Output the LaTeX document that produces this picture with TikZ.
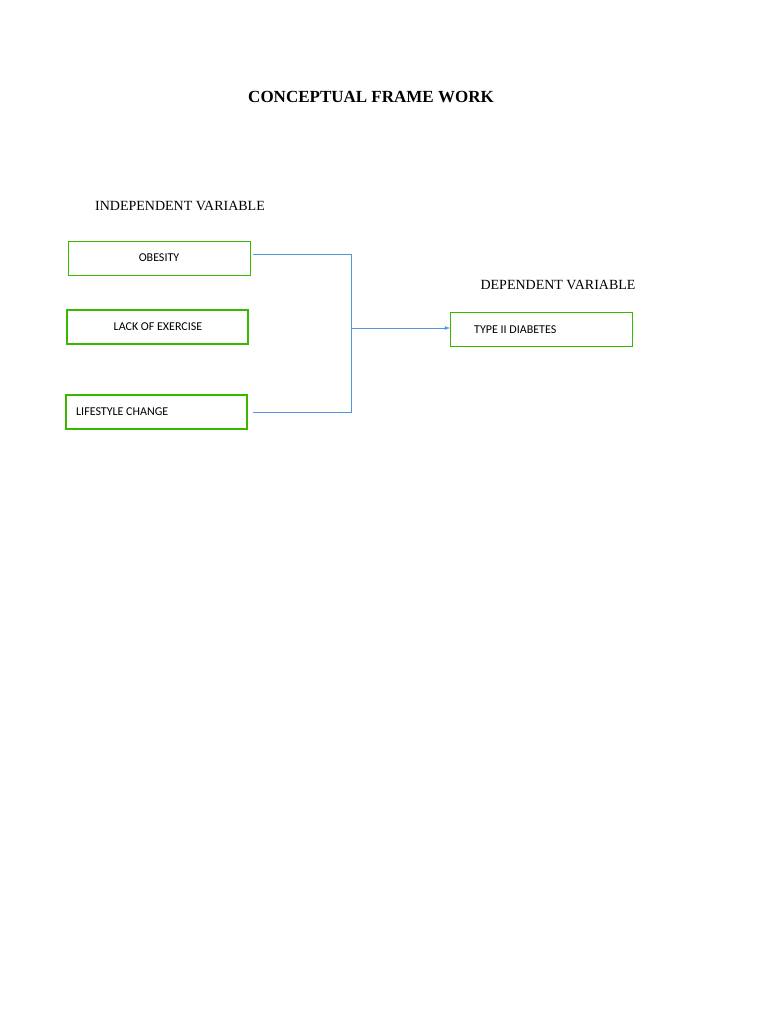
\documentclass[tikz,border=0pt]{standalone}
\usepackage{fontspec}
\setmainfont{Liberation Serif}
\newfontfamily\boxfont{Carlito}
\begin{document}
\begin{tikzpicture}[x=1pt,y=-1pt,
  vbox/.style={draw=green!60!black!70!lime, line width=1.2pt},
  btext/.style={font=\boxfont\fontsize{12}{14}\selectfont, inner sep=0pt},
  lbl/.style={font=\fontsize{14}{16}\selectfont, inner sep=0pt},
  conn/.style={draw={rgb,255:red,80;green,150;blue,220}, line width=0.8pt}]
\useasboundingbox (0,0) rectangle (768,1024);
\node[font=\bfseries\fontsize{17}{20}\selectfont] (title) at (371,97) {CONCEPTUAL FRAME WORK};
\node[lbl] (iv) at (180,206) {INDEPENDENT VARIABLE};
\node[lbl] (dv) at (558,285) {DEPENDENT VARIABLE};
\draw[vbox, line width=0.8pt] (68,241) rectangle (250,275);
\node[btext] (ob) at (159,258) {OBESITY};
\draw[vbox] (67,310) rectangle (248,344);
\node[btext] (lack) at (158,327) {LACK OF EXERCISE};
\draw[vbox] (66,395) rectangle (247,429);
\node[btext, anchor=west] (life) at (76,412) {LIFESTYLE CHANGE};
\draw[vbox, line width=0.9pt] (450,312) rectangle (632,346);
\node[btext, anchor=west] (t2) at (474,330) {TYPE II DIABETES};
\coordinate (a) at (253,254);
\coordinate (b) at (253,412);
\coordinate (j) at (351,328);
\coordinate (e) at (450,328);
\draw[conn] (a) -- (351,254) -- (351,412) -- (b);
\draw[conn, -latex] (j) -- (e);
\end{tikzpicture}
\end{document}
